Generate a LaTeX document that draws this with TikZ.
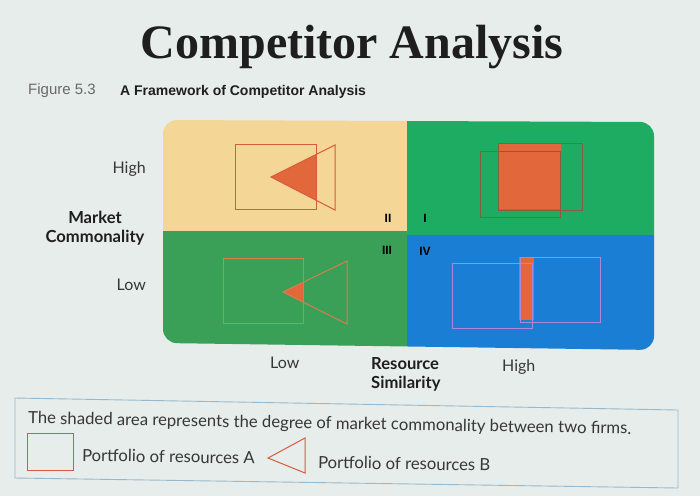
\documentclass[tikz,border=0pt]{standalone}
\usepackage{fontspec}
\setmainfont{Lato}
\newfontfamily\titlefont{Liberation Serif}
\newfontfamily\arialfont{Liberation Sans}
\definecolor{bgc}{RGB}{231,237,234}
\definecolor{tanc}{RGB}{244,214,150}
\definecolor{gtop}{RGB}{30,172,98}
\definecolor{gbot}{RGB}{58,160,88}
\definecolor{bluec}{RGB}{26,126,212}
\definecolor{fillo}{RGB}{226,104,60}
\definecolor{lineo}{RGB}{214,92,62}
\definecolor{lineI}{RGB}{135,95,60}
\definecolor{lineIII}{RGB}{215,125,80}
\definecolor{lineIV}{RGB}{175,135,215}
\definecolor{txt}{RGB}{55,55,55}
\definecolor{txtb}{RGB}{30,30,30}
\definecolor{figgrey}{RGB}{105,105,105}
\definecolor{boxline}{RGB}{150,185,205}
\begin{document}
\begin{tikzpicture}[x=1pt,y=-1pt,
  lbl/.style={inner sep=0pt,text=txt,font=\fontsize{16}{19}\selectfont},
  blbl/.style={inner sep=0pt,text=txtb,font=\bfseries\fontsize{16.6}{19}\selectfont},
  numl/.style={inner sep=0pt,text=black,font=\arialfont\bfseries\fontsize{12}{12}\selectfont},
  leg/.style={inner sep=0pt,text=txt,font=\fontsize{16.7}{19}\selectfont,rotate=-1},
  outl/.style={line width=1pt}]
\fill[bgc] (0,0) rectangle (700,496);
\useasboundingbox (0,0) rectangle (700,496);

% headings
\node[anchor=base,inner sep=0pt,text=txtb,font=\titlefont\bfseries\fontsize{48}{50}\selectfont] (title) at (352,58) {Competitor Analysis};
\node[anchor=base west,inner sep=0pt,text=figgrey,font=\arialfont\fontsize{15}{15}\selectfont] (fig) at (28,94) {Figure 5.3};
\node[anchor=base west,inner sep=0pt,text=txtb,font=\arialfont\bfseries\fontsize{14}{14}\selectfont] (head) at (120,95) {A Framework of Competitor Analysis};

% quadrants
\begin{scope}
\clip[rounded corners=14pt] (163,120) -- (654,122) -- (654,350) -- (163,343) -- cycle;
\fill[tanc] (150,110) rectangle (407,231);
\fill[gtop] (407,110) rectangle (670,235);
\fill[gbot] (150,231) rectangle (407,360);
\fill[bluec] (407,235) rectangle (670,360);
\end{scope}

% quadrant II
\begin{scope}
\clip (235,144) rectangle (316,209);
\fill[fillo] (271,177) -- (335,145) -- (335,210) -- cycle;
\end{scope}
\draw[lineo,outl] (235,144) rectangle (316,209);
\draw[lineo,outl] (271,177) -- (335,145) -- (335,210) -- cycle;

% quadrant I
\fill[fillo] (498,143) rectangle (561,209);
\draw[lineI,outl] (480,151) rectangle (560,217);
\draw[lineI,outl] (498,143) rectangle (582,210);

% quadrant III
\begin{scope}
\clip (223,258) rectangle (303,323);
\fill[fillo] (283,292) -- (347,261) -- (347,324) -- cycle;
\end{scope}
\draw[lineIII,outl] (223,258) rectangle (303,323);
\draw[lineIII,outl] (283,292) -- (347,261) -- (347,324) -- cycle;

% quadrant IV
\fill[fillo] (519,257) rectangle (534,320);
\draw[lineIV,outl] (452,263) rectangle (532,328);
\draw[lineIV,outl] (520,257) rectangle (600,322);

% numerals
\node[numl] (nII) at (388,218) {II};
\node[numl] (nI) at (425,218) {I};
\node[numl] (nIII) at (387,250) {III};
\node[numl] (nIV) at (425,251) {IV};

% axis labels
\node[lbl,anchor=east] (yhigh) at (146,169) {High};
\node[blbl,align=center] (ylab) at (95,228) {Market\\Commonality};
\node[lbl,anchor=east] (ylow) at (146,285) {Low};
\node[lbl,anchor=west] (xlow) at (270,363) {Low};
\node[blbl,align=left,anchor=west] (xlab) at (371,374) {Resource\\Similarity};
\node[lbl,anchor=west] (xhigh) at (502,367) {High};

% legend
\draw[boxline,line width=0.9pt] (15,398) -- (678,410) -- (678,488) -- (15,478) -- cycle;
\node[leg,anchor=west] (legtext) at (28,419) {The shaded area represents the degree of market commonality between two firms.};
\draw[lineo,outl] (27,433) rectangle (73,470);
\node[leg,anchor=west] (legA) at (82,455) {Portfolio of resources A};
\draw[lineo,outl] (268,458) -- (305,438) -- (305,473) -- cycle;
\node[leg,anchor=west] (legB) at (318,462) {Portfolio of resources B};
\end{tikzpicture}
\end{document}
